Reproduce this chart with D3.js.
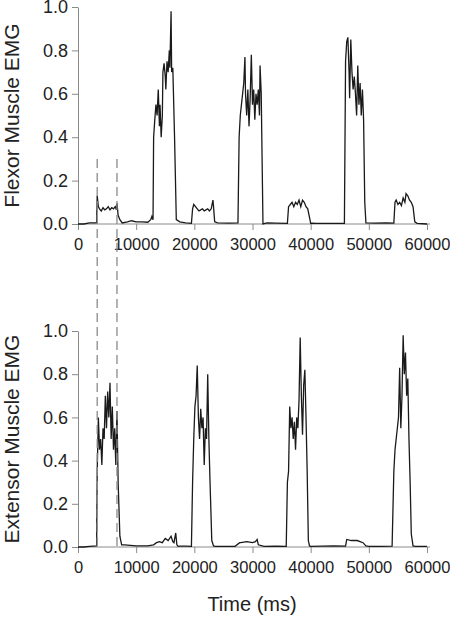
<!DOCTYPE html>
<html><head><meta charset="utf-8">
<script src="https://cdn.jsdelivr.net/npm/d3@7"></script>
<style>body{margin:0;background:#fff}text{font-family:"Liberation Sans",Arial,sans-serif;fill:#222}</style>
</head><body><svg id="c" width="450" height="618"></svg>
<script>
const xTicks=[0,10000,20000,30000,40000,50000,60000];
const yTicks=[0,0.2,0.4,0.6,0.8,1.0];
const dashTimes=[3300,6700];
const flexor=[[0,0],[1000,0],[2000,0.005],[3200,0.005],[3300,0.13],[3500,0.08],[3700,0.07],[4000,0.06],[4300,0.075],[4600,0.065],[4900,0.07],[5200,0.08],[5500,0.065],[5800,0.075],[6100,0.07],[6400,0.08],[6600,0.065],[6700,0.095],[6900,0.04],[7200,0.02],[7600,0.005],[8500,0.01],[9200,0.015],[10000,0.01],[11000,0.01],[12000,0.008],[12500,0.02],[12700,0.035],[12900,0.02],
[13000,0.4],[13200,0.48],[13400,0.55],[13600,0.5],[13800,0.62],[14000,0.45],[14100,0.55],[14300,0.4],[14500,0.5],[14600,0.7],[14800,0.74],[15000,0.68],[15100,0.62],[15300,0.75],[15500,0.7],[15700,0.8],[15800,0.72],[16000,0.98],[16100,0.7],[16300,0.72],[16600,0.4],[16900,0.02],[17500,0.01],[18500,0.005],[19500,0.003],
[19700,0.07],[19900,0.09],[20200,0.08],[20500,0.07],[20800,0.06],[21100,0.065],[21400,0.07],[21700,0.06],[22000,0.065],[22300,0.07],[22600,0.06],[22900,0.07],[23200,0.11],[23300,0.08],[23500,0.01],[24000,0.005],[26000,0.004],[27500,0.005],
[27700,0.4],[27900,0.5],[28100,0.55],[28300,0.6],[28500,0.65],[28700,0.77],[28800,0.6],[29000,0.5],[29200,0.62],[29400,0.45],[29600,0.58],[29800,0.78],[30000,0.55],[30200,0.62],[30400,0.48],[30600,0.6],[30800,0.55],[31000,0.62],[31200,0.5],[31300,0.73],[31500,0.6],[31600,0.4],[31800,0],[32500,0.005],[34000,0.004],[36000,0.003],
[36200,0.08],[36500,0.09],[36800,0.1],[37100,0.08],[37400,0.1],[37700,0.09],[38000,0.11],[38300,0.08],[38600,0.11],[38900,0.1],[39200,0.08],[39500,0.07],[39800,0.03],[40000,0.003],[40200,0.004],[41000,0.003],[43000,0.003],[45000,0.003],[45800,0.003],
[46000,0.75],[46200,0.84],[46400,0.86],[46600,0.7],[46700,0.58],[46900,0.85],[47100,0.7],[47300,0.62],[47500,0.68],[47700,0.6],[47900,0.5],[48100,0.73],[48300,0.55],[48500,0.65],[48700,0.5],[48900,0.62],[49000,0.55],[49100,0.48],[49300,0.1],[49500,0.005],[51000,0.004],[53000,0.005],[54300,0.004],
[54500,0.1],[54700,0.11],[55000,0.09],[55300,0.1],[55600,0.085],[55900,0.12],[56200,0.1],[56400,0.14],[56700,0.13],[57000,0.11],[57300,0.1],[57600,0.08],[57900,0.01],[58300,0.003],[60000,0]];
const extensor=[[0,0],[1000,0],[2000,0.003],[3200,0.005],[3300,0.35],[3500,0.6],[3700,0.45],[3900,0.5],[4100,0.38],[4300,0.55],[4500,0.5],[4700,0.7],[4900,0.55],[5100,0.72],[5300,0.6],[5500,0.76],[5700,0.5],[5900,0.65],[6100,0.45],[6300,0.55],[6500,0.38],[6700,0.63],[6900,0.3],[7200,0.05],[7500,0.01],[8000,0.01],[10000,0.005],[12000,0.005],
[13000,0.01],[13500,0.02],[14000,0.025],[14500,0.02],[15000,0.04],[15500,0.03],[16000,0.05],[16300,0.025],[16500,0.02],[16800,0.065],[17000,0.01],[17200,0.003],[17500,0.004],[18500,0.004],[19500,0.003],
[19700,0.3],[19900,0.5],[20100,0.65],[20300,0.7],[20500,0.84],[20700,0.6],[20900,0.5],[21100,0.64],[21300,0.55],[21500,0.6],[21700,0.38],[21900,0.55],[22100,0.5],[22300,0.8],[22500,0.5],[22700,0.3],[23000,0.03],[23300,0.005],[23600,0.003],[25000,0.003],[27000,0.003],
[27800,0.02],[28000,0.02],[29000,0.025],[30000,0.02],[30500,0.025],[30800,0.035],[31000,0.01],[32000,0.003],[34000,0.004],[35800,0.003],
[36000,0.3],[36200,0.35],[36400,0.65],[36600,0.55],[36800,0.6],[37000,0.5],[37200,0.58],[37400,0.45],[37600,0.6],[37800,0.55],[38000,0.68],[38200,0.97],[38400,0.7],[38600,0.52],[38800,0.75],[39000,0.82],[39200,0.6],[39400,0.35],[39600,0.03],[39800,0.005],[40000,0.003],[42000,0.004],[44000,0.005],
[46000,0.004],[46200,0.035],[47000,0.03],[48000,0.03],[49000,0.02],[49500,0.005],[50000,0.003],[52000,0.003],[54000,0.004],
[54300,0.35],[54500,0.45],[54700,0.5],[54900,0.55],[55100,0.6],[55300,0.83],[55500,0.55],[55700,0.7],[55900,0.98],[56100,0.8],[56300,0.9],[56500,0.7],[56700,0.78],[56900,0.5],[57100,0.3],[57300,0.06],[57600,0.005],[58000,0.003],[59000,0.003],[60000,0.003]];

const svg=d3.select("#c");
const x=d3.scaleLinear().domain([0,60000]).range([78,427]);
const panels=[
 {data:flexor,top:7,bot:224,label:"Flexor Muscle EMG"},
 {data:extensor,top:331,bot:547,label:"Extensor Muscle EMG"}
];
const grey="#8a8a8a";
panels.forEach(p=>{
  const y=d3.scaleLinear().domain([0,1]).range([p.bot,p.top]);
  p.y=y;
  const gx=svg.append("g").attr("transform",`translate(0,${p.bot})`)
    .call(d3.axisBottom(x).tickValues(xTicks).tickFormat(d3.format("d")).tickSize(6).tickSizeOuter(0));
  gx.select(".domain").attr("stroke",grey).attr("d",`M78,0H430`);
  gx.selectAll(".tick line").attr("stroke",grey);
  gx.selectAll("text").style("font-size","16.5px").attr("dy","1.05em").attr("fill","#222");
  const gy=svg.append("g").attr("transform","translate(78,0)")
    .call(d3.axisLeft(y).tickValues(yTicks).tickFormat(d3.format(".1f")).tickSize(6).tickSizeOuter(0));
  gy.select(".domain").attr("stroke",grey);
  gy.selectAll(".tick line").attr("stroke",grey);
  gy.selectAll("text").style("font-size","18px").attr("x",-10).attr("fill","#222");
  svg.append("text").attr("transform",`translate(19,${(p.top+p.bot)/2}) rotate(-90)`)
    .attr("text-anchor","middle").style("font-size","21px").text(p.label);
  const line=d3.line().x(d=>x(d[0])).y(d=>y(d[1]));
  svg.append("path").datum(p.data).attr("d",line).attr("fill","none").attr("stroke","#1a1a1a").attr("stroke-width",1.3);
});
dashTimes.forEach(t=>{
  svg.append("line").attr("x1",x(t)).attr("x2",x(t))
    .attr("y1",panels[0].y(0.3)).attr("y2",panels[1].y(0))
    .attr("stroke",grey).attr("stroke-width",1.3).attr("stroke-dasharray","9,5");
});
svg.append("text").attr("x",252).attr("y",611).attr("text-anchor","middle").style("font-size","20px").text("Time (ms)");
</script></body></html>
